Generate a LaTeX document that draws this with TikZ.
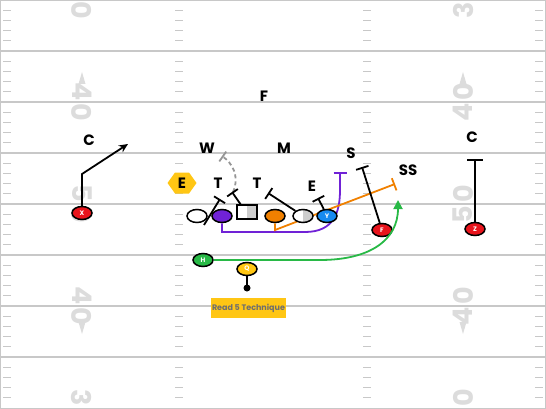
\documentclass[tikz,border=0pt]{standalone}
\usepackage{fontspec}
\setmainfont{Poppins}
\usetikzlibrary{arrows.meta}
\usetikzlibrary{calc}
\usetikzlibrary{shapes.geometric}

\definecolor{fieldgray}{RGB}{200,200,200}
\definecolor{numgray}{RGB}{220,220,220}
\definecolor{halfgray}{RGB}{205,205,205}
\definecolor{dashgray}{RGB}{150,150,150}
\definecolor{pred}{RGB}{232,20,28}
\definecolor{pblue}{RGB}{22,138,240}
\definecolor{pgreen}{RGB}{40,185,70}
\definecolor{pgold}{RGB}{255,198,20}
\definecolor{ppurple}{RGB}{112,34,214}
\definecolor{porange}{RGB}{240,128,0}
\definecolor{tagtext}{RGB}{110,110,110}

\begin{document}
\begin{tikzpicture}[x=1pt,y=-1pt,
    yard/.style={draw=fieldgray,line width=1.2pt},
    hash/.style={draw=fieldgray,line width=1.1pt},
    yardnum/.style={text=numgray,font=\fontsize{27}{27}\selectfont\bfseries,inner sep=0pt},
    player/.style={ellipse,draw,line width=1.5pt,minimum width=20pt,minimum height=13pt,inner sep=0pt,text=white,font=\fontsize{6.5}{6.5}\selectfont\bfseries},
    half/.style={path picture={\fill[halfgray] (path picture bounding box.north) rectangle (path picture bounding box.south east);}},
    def/.style={font=\fontsize{15}{15}\selectfont\bfseries,inner sep=0pt},
    route/.style={line width=1.8pt},
    block/.style={route,-{Bar[width=13pt]}}]
    \useasboundingbox (0,0) rectangle (546,409);
    \clip (0,0) rectangle (546,409);

    \draw[yard] (0,0) rectangle (546,409);
    \foreach \y in {51,102,...,357}
        \draw[yard] (0,\y) -- (546,\y);
    \foreach \y in {0,51,...,357}
        \foreach \k in {1,...,4}
            \foreach \x in {3,175,363,535}
                \draw[hash] (\x,\y+10.2*\k) -- ++(8,0);

    \foreach \y/\a/\b in {0/3/0,102/4/0,204/5/0,306/4/0,408/3/0} {
        \node[yardnum,rotate=-90] (la\y) at (82,\y-10.5) {\a};
        \node[yardnum,rotate=-90] (lb\y) at (82,\y+10.5) {\b};
        \node[yardnum,rotate=90] (ra\y) at (463,\y+10.5) {\a};
        \node[yardnum,rotate=90] (rb\y) at (463,\y-10.5) {\b};
    }
    \foreach \x in {82,463} {
        \fill[numgray] (\x-3.5,84) -- (\x+3.5,84) -- (\x,72) -- cycle;
        \fill[numgray] (\x-3.5,322) -- (\x+3.5,322) -- (\x,334) -- cycle;
    }

    \node[def] (fs) at (264,96) {F};
    \node[def] (w) at (207,148) {W};
    \node[def] (m) at (284,148) {M};
    \node[def] (s) at (351,153) {S};
    \node[def] (ss) at (408,170) {SS};
    \node[def] (cl) at (89,140) {C};
    \node[def] (cr) at (472,137) {C};
    \fill[pgold] (182,183) +(-14.5,0) -- +(-7,-10.5) -- +(7,-10.5) -- +(14.5,0) -- +(7,10.5) -- +(-7,10.5) -- cycle;
    \node[def] (e) at (182,183) {E};
    \node[def] (t1) at (218,183) {T};
    \node[def] (t2) at (257,183) {T};
    \node[def] (e2) at (312,186) {E};

    \coordinate (lta) at (204,225);
    \coordinate (ltb) at (220,199);
    \draw[block] (lta) -- (ltb);
    \coordinate (wa) at (233,192);
    \coordinate (wb) at (222,156);
    \draw[route,draw=dashgray,dash pattern=on 4pt off 3pt,-{Bar[width=12pt]}] (wa) .. controls (240,176) and (232,163) .. (wb);

    \node[player,fill=white] (lt) at (197,216) {};
    \node[player,fill=ppurple] (lg) at (222,216) {};
    \node[draw,line width=1.5pt,minimum width=20pt,minimum height=14pt,inner sep=0pt,fill=white,half] (c) at (247,212) {};
    \node[player,fill=porange] (rg) at (275,216) {};

    \coordinate (pa) at (222,232);
    \coordinate (pb) at (305,232);
    \coordinate (pc) at (340,190);
    \coordinate (pd) at (340,172);
    \draw[block,draw=ppurple] (lg) -- (pa) -- (pb) .. controls (334,232) and (340,212) .. (pc) -- (pd);
    \coordinate (oa) at (275,230);
    \coordinate (ob) at (395,184);
    \draw[block,draw=porange] (rg) -- (oa) -- (ob);

    \node[player,fill=white,half] (rt) at (303,216) {};
    \node[player,fill=pblue] (y) at (327,216) {Y};
    \node[player,fill=pred] (x) at (82,213) {X};
    \node[player,fill=pred] (z) at (475,229) {Z};
    \node[player,fill=pred] (f) at (382,230) {F};
    \node[player,fill=pgreen] (h) at (203,260) {H};
    \node[player,fill=pgold] (q) at (247,269) {Q};

    \coordinate (cb) at (232,192);
    \draw[block] ($(c.north)!0.6!(c.north west)$) -- (cb);
    \coordinate (rtb) at (268,193);
    \draw[block] (rt.north west) -- (rtb);
    \coordinate (yb) at (318,198);
    \draw[block] (y.115) -- (yb);

    \coordinate (xk) at (82,174);
    \coordinate (xe) at (128,144);
    \draw[route,-{Stealth[length=9pt,width=8pt]}] (x) -- (xk) -- (xe);
    \coordinate (zb) at (475,159);
    \draw[route,-{Bar[width=16pt]}] (z) -- (zb);
    \coordinate (fb) at (362,167);
    \draw[block] (f) -- (fb);

    \coordinate (ga) at (320,260);
    \coordinate (gb) at (398,200);
    \draw[route,draw=pgreen,-{Triangle[length=9pt,width=9pt]}] (h) -- (ga) .. controls (370,260) and (398,240) .. (gb);

    \coordinate (qd) at (247,288);
    \draw[route] (q) -- (qd);
    \fill (qd) circle (3.5);
    \node[fill=pgold,minimum width=75pt,minimum height=20pt,inner sep=0pt,text=tagtext,font=\fontsize{8}{8}\selectfont\bfseries] (tag) at (248.5,308) {Read 5 Technique};
\end{tikzpicture}
\end{document}
